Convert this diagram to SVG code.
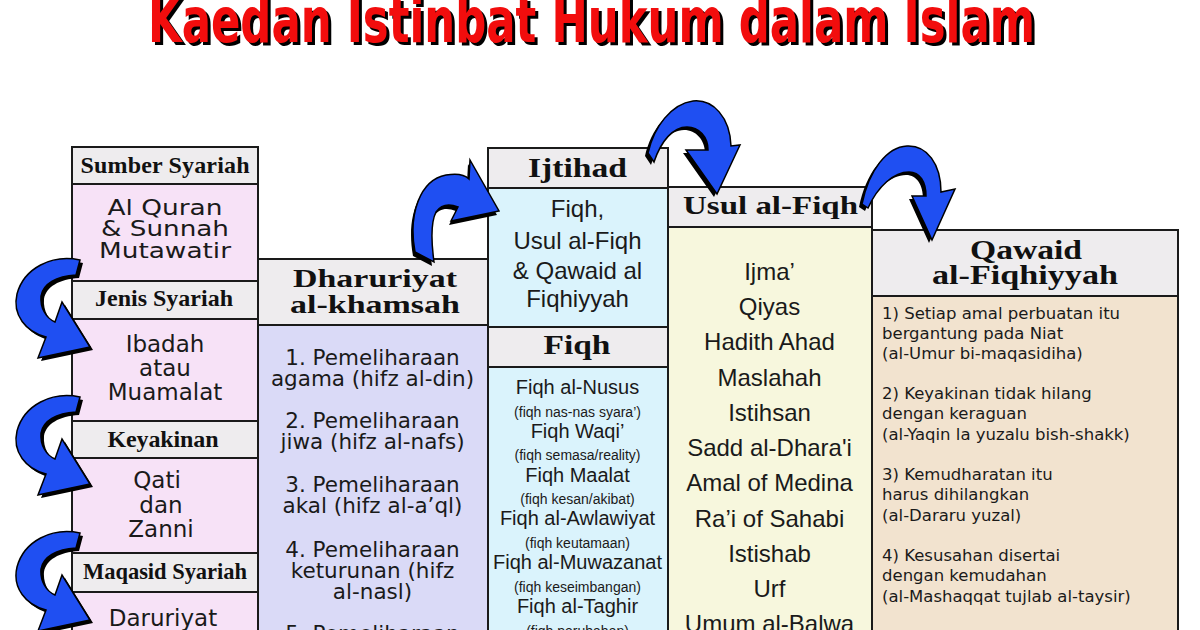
<svg xmlns="http://www.w3.org/2000/svg" width="1200" height="630" viewBox="0 0 1200 630">
<style>
.hd{fill:#eeecee;stroke:#1a1a1a;stroke-width:2}
.b1{fill:#f7e2f7;stroke:#1a1a1a;stroke-width:2}
.b2{fill:#dadaf7;stroke:#1a1a1a;stroke-width:2}
.b3{fill:#daf3fc;stroke:#1a1a1a;stroke-width:2}
.b4{fill:#f7f7dd;stroke:#1a1a1a;stroke-width:2}
.b5{fill:#f2e3cf;stroke:#1a1a1a;stroke-width:2}
.ht{font-family:"Liberation Serif",serif;font-weight:bold;fill:#111;text-anchor:middle}
.v{font-family:"DejaVu Sans",sans-serif;fill:#1a1a1a;text-anchor:middle}
.t{font-family:"Liberation Sans",sans-serif;fill:#1a1a1a;text-anchor:middle}
.q{font-family:"DejaVu Sans",sans-serif;fill:#1a1a1a;font-size:16.5px}
.sh{fill:#000}
.ar{fill:#1f4ff2;stroke:#000;stroke-width:1.5;stroke-linejoin:miter}
</style>
<defs>
<path id="arrowL" d="M80,260 C52,254 24,268 17,294 C12,315 26,332 46,337 L38,358 L90,347 L62,302 L55,322 C46,318 40,308 41,296 C43,284 56,276 76,275 Z"/>
<path id="arrow1" d="M415,252 C408,214 420,180 446,175 C457,173 465,175 469,179 L470,160 L499,211 L451,221 L458,207 C448,203 441,205 436,212 C431,222 431,240 434,262 Z"/>
<path id="arrow2" d="M648,153 C654,127 671,104 693,101 C713,99 730,117 731,146 L740,145 L717,194 L686,150 L708,150 C708,137 699,127 687,127 C673,127 661,141 654,162 Z"/>
<path id="arrow3" d="M862,204 C869,170 887,147 907,146 C927,145 941,164 941,192 L955,189 L932,240 L912,196 L926,196 C926,182 920,172 909,172 C894,172 878,186 868,208 Z"/>
</defs>
<rect width="1200" height="630" fill="#fff"/>

<g id="title">
<text x="151" y="45" textLength="887" lengthAdjust="spacingAndGlyphs" font-family="DejaVu Sans, sans-serif" font-weight="bold" font-size="62" fill="#000">Kaedan Istinbat Hukum dalam Islam</text>
<text x="148" y="42" textLength="887" lengthAdjust="spacingAndGlyphs" font-family="DejaVu Sans, sans-serif" font-weight="bold" font-size="62" fill="#f20d0d">Kaedan Istinbat Hukum dalam Islam</text>
</g>

<g id="col-sumber">
<rect class="b1" x="72" y="184" width="186" height="460"/>
<rect class="hd" x="72" y="147" width="186" height="37"/>
<text class="ht" x="165" y="173" style="font-size:24px" textLength="169">Sumber Syariah</text>
<text class="v" style="font-size:21px" x="165" y="215" textLength="115" lengthAdjust="spacingAndGlyphs">Al Quran</text>
<text class="v" style="font-size:21px" x="165" y="236" textLength="128" lengthAdjust="spacingAndGlyphs">&amp; Sunnah</text>
<text class="v" style="font-size:21px" x="165" y="258" textLength="132" lengthAdjust="spacingAndGlyphs">Mutawatir</text>
</g>
<g id="col-jenis">
<rect class="hd" x="72" y="281" width="186" height="38"/>
<text class="ht" x="164" y="306" style="font-size:24px" textLength="138">Jenis Syariah</text>
<text class="v" style="font-size:23px" x="165" y="352">Ibadah</text>
<text class="v" style="font-size:23px" x="165" y="376">atau</text>
<text class="v" style="font-size:23px" x="165" y="400">Muamalat</text>
</g>
<g id="col-keyakinan">
<rect class="hd" x="72" y="421" width="186" height="37"/>
<text class="ht" x="163" y="447" style="font-size:24px" textLength="111">Keyakinan</text>
<text class="v" style="font-size:23px" x="157" y="488">Qati</text>
<text class="v" style="font-size:23px" x="161" y="513">dan</text>
<text class="v" style="font-size:23px" x="161" y="537">Zanni</text>
</g>
<g id="col-maqasid">
<rect class="hd" x="72" y="553" width="186" height="39"/>
<text class="ht" x="165" y="579" style="font-size:22.5px" textLength="164">Maqasid Syariah</text>
<text class="v" style="font-size:23px" x="163" y="626">Daruriyat</text>
</g>

<g id="col-dharuriyat">
<rect class="b2" x="258" y="325" width="230" height="320"/>
<rect class="hd" x="258" y="259" width="230" height="66"/>
<text class="ht" x="375" y="287" style="font-size:26px" textLength="164" lengthAdjust="spacingAndGlyphs">Dharuriyat</text>
<text class="ht" x="375" y="313" style="font-size:26px" textLength="170" lengthAdjust="spacingAndGlyphs">al-khamsah</text>
<g class="v" style="font-size:21.5px">
<text x="372.5" y="365">1. Pemeliharaan</text>
<text x="372.5" y="386">agama (hifz al-din)</text>
<text x="372.5" y="428">2. Pemeliharaan</text>
<text x="372.5" y="449">jiwa (hifz al-nafs)</text>
<text x="372.5" y="492">3. Pemeliharaan</text>
<text x="372.5" y="513">akal (hifz al-a’ql)</text>
<text x="372.5" y="557">4. Pemeliharaan</text>
<text x="372.5" y="578">keturunan (hifz</text>
<text x="372.5" y="599">al-nasl)</text>
<text x="372.5" y="641">5. Pemeliharaan</text>
</g>
</g>

<g id="col-ijtihad">
<rect class="b3" x="488" y="188" width="180" height="139"/>
<rect class="hd" x="488" y="148" width="180" height="40"/>
<text class="ht" x="577.5" y="177" style="font-size:27px" textLength="99" lengthAdjust="spacingAndGlyphs">Ijtihad</text>
<g class="t" style="font-size:24px">
<text x="577.5" y="217">Fiqh,</text>
<text x="577.5" y="249">Usul al-Fiqh</text>
<text x="577.5" y="279">&amp; Qawaid al</text>
<text x="577.5" y="307">Fiqhiyyah</text>
</g>
</g>
<g id="col-fiqh">
<rect class="b3" x="488" y="367" width="180" height="280"/>
<rect class="hd" x="488" y="327" width="180" height="40"/>
<text class="ht" x="577" y="354" style="font-size:28px" textLength="67" lengthAdjust="spacingAndGlyphs">Fiqh</text>
<g class="t" style="font-size:20px">
<text x="577.5" y="394">Fiqh al-Nusus</text>
<text x="577.5" y="438">Fiqh Waqi’</text>
<text x="577.5" y="482">Fiqh Maalat</text>
<text x="577.5" y="525">Fiqh al-Awlawiyat</text>
<text x="577.5" y="569">Fiqh al-Muwazanat</text>
<text x="577.5" y="613">Fiqh al-Taghir</text>
</g>
<g class="t" style="font-size:14px">
<text x="577.5" y="417">(fiqh nas-nas syara’)</text>
<text x="577.5" y="460">(fiqh semasa/reality)</text>
<text x="577.5" y="504">(fiqh kesan/akibat)</text>
<text x="577.5" y="548">(fiqh keutamaan)</text>
<text x="577.5" y="592">(fiqh keseimbangan)</text>
<text x="577.5" y="636">(fiqh perubahan)</text>
</g>
</g>

<g id="col-usul">
<rect class="b4" x="668" y="227" width="204" height="420"/>
<rect class="hd" x="668" y="187" width="204" height="40"/>
<text class="ht" x="770.5" y="214" style="font-size:26px" textLength="175" lengthAdjust="spacingAndGlyphs">Usul al-Fiqh</text>
<g class="t" style="font-size:24px">
<text x="769.5" y="280">Ijma’</text>
<text x="769.5" y="315">Qiyas</text>
<text x="769.5" y="350">Hadith Ahad</text>
<text x="769.5" y="386">Maslahah</text>
<text x="769.5" y="421">Istihsan</text>
<text x="769.5" y="456">Sadd al-Dhara'i</text>
<text x="769.5" y="491">Amal of Medina</text>
<text x="769.5" y="527">Ra’i of Sahabi</text>
<text x="769.5" y="562">Istishab</text>
<text x="769.5" y="597">Urf</text>
<text x="769.5" y="632">Umum al-Balwa</text>
</g>
</g>

<g id="col-qawaid">
<rect class="b5" x="872" y="296" width="306" height="350"/>
<rect class="hd" x="872" y="230" width="306" height="66"/>
<text class="ht" x="1026" y="259" style="font-size:27px" textLength="112" lengthAdjust="spacingAndGlyphs">Qawaid</text>
<text class="ht" x="1025" y="284" style="font-size:27px" textLength="186" lengthAdjust="spacingAndGlyphs">al-Fiqhiyyah</text>
<g class="q">
<text x="882" y="319">1) Setiap amal perbuatan itu</text>
<text x="882" y="339">bergantung pada Niat</text>
<text x="882" y="359">(al-Umur bi-maqasidiha)</text>
<text x="882" y="399">2) Keyakinan tidak hilang</text>
<text x="882" y="419">dengan keraguan</text>
<text x="882" y="440">(al-Yaqin la yuzalu bish-shakk)</text>
<text x="882" y="480">3) Kemudharatan itu</text>
<text x="882" y="500">harus dihilangkan</text>
<text x="882" y="521">(al-Dararu yuzal)</text>
<text x="882" y="561">4) Kesusahan disertai</text>
<text x="882" y="581">dengan kemudahan</text>
<text x="882" y="602">(al-Mashaqqat tujlab al-taysir)</text>
</g>
</g>

<g id="connectors">
<use href="#arrowL" class="sh" transform="translate(3,3)"/>
<use href="#arrowL" class="ar"/>
<use href="#arrowL" class="sh" transform="translate(3,140)"/>
<use href="#arrowL" class="ar" transform="translate(0,137)"/>
<use href="#arrowL" class="sh" transform="translate(3,276)"/>
<use href="#arrowL" class="ar" transform="translate(0,273)"/>
<use href="#arrow1" class="sh" transform="translate(-2,4)"/>
<use href="#arrow1" class="ar"/>
<use href="#arrow2" class="sh" transform="translate(-3,3)"/>
<use href="#arrow2" class="ar"/>
<use href="#arrow3" class="sh" transform="translate(-3,3)"/>
<use href="#arrow3" class="ar"/>
</g>
</svg>
